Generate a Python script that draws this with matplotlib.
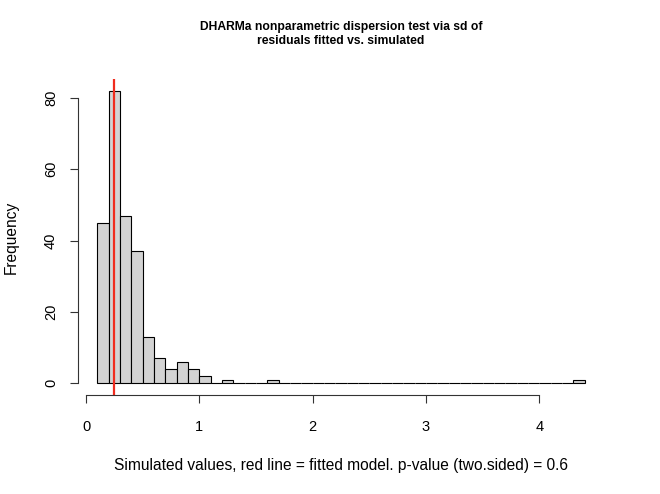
import numpy as np
import matplotlib
matplotlib.use("Agg")
import matplotlib.pyplot as plt

plt.rcParams['font.family'] = ['Liberation Sans', 'DejaVu Sans']

# histogram of simulated sd values, bins of 0.1 from 0.1 to 4.4
bin_edges = np.round(np.arange(0.1, 4.41, 0.1), 2)
counts = [45, 82, 47, 37, 13, 7, 4, 6, 4, 2,
          0, 1, 0, 0, 0, 1, 0, 0, 0, 0,
          0, 0, 0, 0, 0, 0, 0, 0, 0, 0,
          0, 0, 0, 0, 0, 0, 0, 0, 0, 0,
          0, 0, 1]
observed = 0.25

title = "DHARMa nonparametric dispersion test via sd of\nresiduals fitted vs. simulated"
xlab = "Simulated values, red line = fitted model. p-value (two.sided) = 0.6"
ylab = "Frequency"

fig = plt.figure(figsize=(6.6, 4.94), dpi=100)
ax = fig.add_axes([78 / 660, 1 - 395 / 494, (604 - 78) / 660, (395 - 79) / 494])

widths = np.diff(bin_edges)
ax.bar(bin_edges[:-1], counts, width=widths, align='edge',
       color='#D3D3D3', edgecolor='black', linewidth=0.8)
ax.axvline(observed, color='#F02C1E', linewidth=1.6)

# R-like extended ranges
lo, hi = bin_edges[0], bin_edges[-1]
pad = 0.04 * (hi - lo)
ax.set_xlim(lo - pad, hi + pad)
ymax = max(counts)
ax.set_ylim(-0.04 * ymax, ymax * 1.04)

ax.spines['top'].set_visible(False)
ax.spines['right'].set_visible(False)
ax.spines['bottom'].set_bounds(0, 4)
ax.spines['left'].set_bounds(0, 80)
for s in ('bottom', 'left'):
    ax.spines[s].set_linewidth(0.8)
    ax.spines[s].set_color('#333333')

ax.set_xticks([0, 1, 2, 3, 4])
ax.set_yticks([0, 20, 40, 60, 80])
ax.tick_params(axis='both', length=5.8, width=0.8, color='#333333',
               labelsize=10.5)
ax.tick_params(axis='x', pad=12.2)
ax.tick_params(axis='y', pad=8.6, labelrotation=90)
for lab in ax.get_yticklabels():
    lab.set_verticalalignment('center')

ax.set_xlabel(xlab, fontsize=11.2, labelpad=17.5)
ax.set_ylabel(ylab, fontsize=11.2, labelpad=18)
ax.set_title(title, fontsize=8.7, fontweight='bold', pad=25, linespacing=1.3)

fig.savefig("out.png", dpi=100)
